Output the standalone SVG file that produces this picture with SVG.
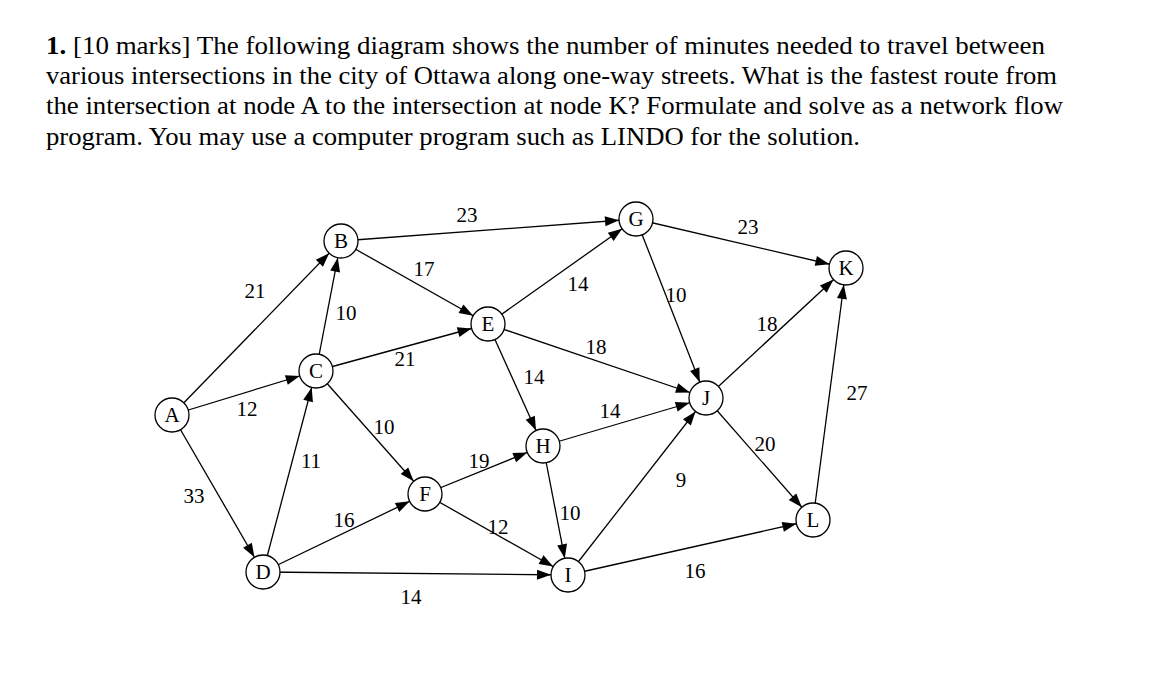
<svg xmlns="http://www.w3.org/2000/svg" width="1154" height="684" viewBox="0 0 1154 684">
<style>
text{font-family:"Liberation Serif","Times New Roman",serif;fill:#000}
.t{font-size:25px}
.n{font-size:21px;text-anchor:middle}
.l{font-size:21px;text-anchor:middle}
circle{fill:#fff;stroke:#000;stroke-width:1.3}
#edges line{stroke:#000;stroke-width:1.3;marker-end:url(#ar)}
</style>
<defs><marker id="ar" markerUnits="userSpaceOnUse" markerWidth="34" markerHeight="12" refX="31" refY="5" orient="auto" overflow="visible"><path d="M0,0L14,5L0,10z" fill="#000"/></marker></defs>
<g id="title">
<text x="46" y="54" class="t" textLength="999" lengthAdjust="spacingAndGlyphs"><tspan font-weight="bold">1.</tspan> [10 marks]  The following diagram shows the number of minutes needed to travel between</text>
<text x="46" y="84" class="t" textLength="1011" lengthAdjust="spacingAndGlyphs">various intersections in the city of Ottawa along one-way streets. What is the fastest route from</text>
<text x="46" y="114" class="t" textLength="1017" lengthAdjust="spacingAndGlyphs">the intersection at node A to the intersection at node K?  Formulate and solve as a network flow</text>
<text x="46" y="145" class="t" textLength="814" lengthAdjust="spacingAndGlyphs">program. You may use a computer program such as LINDO for the solution.</text>
</g>
<g id="edges">
<line x1="172" y1="415" x2="341" y2="241"/>
<line x1="172" y1="415" x2="316" y2="371"/>
<line x1="172" y1="415" x2="263" y2="572"/>
<line x1="263" y1="572" x2="316" y2="371"/>
<line x1="316" y1="371" x2="341" y2="241"/>
<line x1="341" y1="241" x2="636" y2="219"/>
<line x1="341" y1="241" x2="488" y2="324"/>
<line x1="316" y1="371" x2="488" y2="324"/>
<line x1="316" y1="371" x2="425" y2="494"/>
<line x1="263" y1="572" x2="425" y2="494"/>
<line x1="263" y1="572" x2="568" y2="575"/>
<line x1="425" y1="494" x2="543" y2="446"/>
<line x1="425" y1="494" x2="568" y2="575"/>
<line x1="488" y1="324" x2="636" y2="219"/>
<line x1="488" y1="324" x2="543" y2="446"/>
<line x1="488" y1="324" x2="706" y2="398"/>
<line x1="636" y1="219" x2="846" y2="268"/>
<line x1="636" y1="219" x2="706" y2="398"/>
<line x1="543" y1="446" x2="706" y2="398"/>
<line x1="543" y1="446" x2="568" y2="575"/>
<line x1="568" y1="575" x2="706" y2="398"/>
<line x1="568" y1="575" x2="813" y2="520"/>
<line x1="706" y1="398" x2="846" y2="268"/>
<line x1="706" y1="398" x2="813" y2="520"/>
<line x1="813" y1="520" x2="846" y2="268"/>
</g>
<g id="labels">
<text x="255" y="298" class="l">21</text>
<text x="247" y="416" class="l">12</text>
<text x="194" y="503" class="l">33</text>
<text x="311" y="468" class="l">11</text>
<text x="346" y="320" class="l">10</text>
<text x="467" y="222" class="l">23</text>
<text x="424" y="276" class="l">17</text>
<text x="405" y="366" class="l">21</text>
<text x="384" y="434" class="l">10</text>
<text x="344" y="527" class="l">16</text>
<text x="411" y="604" class="l">14</text>
<text x="479" y="468" class="l">19</text>
<text x="498" y="534" class="l">12</text>
<text x="578" y="291" class="l">14</text>
<text x="534" y="384" class="l">14</text>
<text x="596" y="354" class="l">18</text>
<text x="748" y="234" class="l">23</text>
<text x="676" y="302" class="l">10</text>
<text x="610" y="418" class="l">14</text>
<text x="570" y="520" class="l">10</text>
<text x="681" y="487" class="l">9</text>
<text x="695" y="578" class="l">16</text>
<text x="767" y="331" class="l">18</text>
<text x="765" y="451" class="l">20</text>
<text x="857" y="400" class="l">27</text>
</g>
<g id="nA"><circle cx="172" cy="415" r="17"/><text x="172" y="422" class="n">A</text></g>
<g id="nB"><circle cx="341" cy="241" r="17"/><text x="341" y="248" class="n">B</text></g>
<g id="nC"><circle cx="316" cy="371" r="17"/><text x="316" y="378" class="n">C</text></g>
<g id="nD"><circle cx="263" cy="572" r="17"/><text x="263" y="579" class="n">D</text></g>
<g id="nE"><circle cx="488" cy="324" r="17"/><text x="488" y="331" class="n">E</text></g>
<g id="nF"><circle cx="425" cy="494" r="17"/><text x="425" y="501" class="n">F</text></g>
<g id="nG"><circle cx="636" cy="219" r="17"/><text x="636" y="226" class="n">G</text></g>
<g id="nH"><circle cx="543" cy="446" r="17"/><text x="543" y="453" class="n">H</text></g>
<g id="nI"><circle cx="568" cy="575" r="17"/><text x="568" y="582" class="n">I</text></g>
<g id="nJ"><circle cx="706" cy="398" r="17"/><text x="706" y="405" class="n">J</text></g>
<g id="nK"><circle cx="846" cy="268" r="17"/><text x="846" y="275" class="n">K</text></g>
<g id="nL"><circle cx="813" cy="520" r="17"/><text x="813" y="527" class="n">L</text></g>
</svg>
